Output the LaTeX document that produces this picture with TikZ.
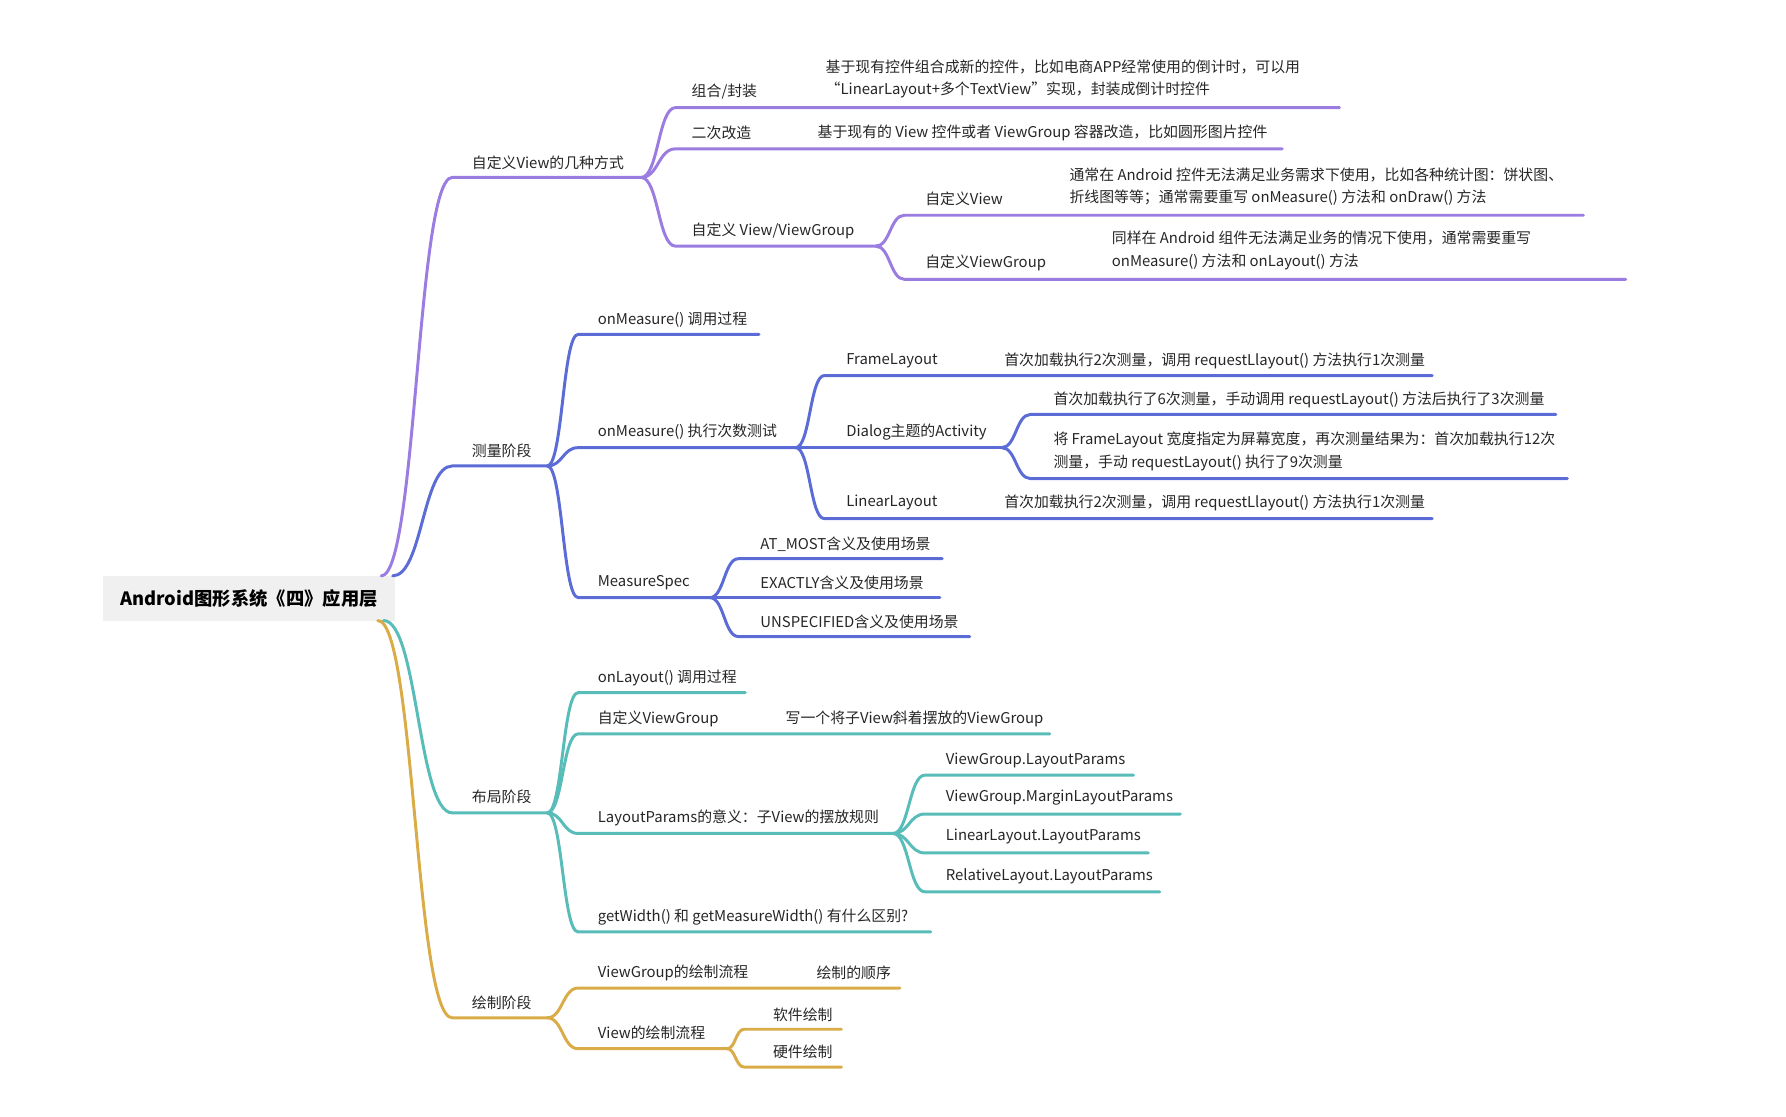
\documentclass[tikz,border=0pt]{standalone}
\usepackage{fontspec}
\setmainfont{Noto Sans CJK SC}
\begin{document}
\begin{tikzpicture}[x=1pt,y=1pt,
  link/.style={line width=2.6pt,line cap=round},
  lbl/.style={anchor=west,inner sep=0pt,font=\fontsize{13}{20}\selectfont,text=black!85},
  note/.style={lbl,align=left},
  cP/.style={color={rgb,255:red,155;green,125;blue,226}},
  cB/.style={color={rgb,255:red,92;green,108;blue,214}},
  cT/.style={color={rgb,255:red,88;green,188;blue,184}},
  cY/.style={color={rgb,255:red,218;green,172;blue,72}}]
\useasboundingbox (0,0) rectangle (1560,-975);
\newcommand\br[7]{%
 \coordinate (#7s) at (#4,-#5); \coordinate (#7e) at (#6,-#5);
 \draw[#1,link] (#2) .. controls ($(#2)+({0.5*(#4-\pgfkeysvalueof{/tmp/x})},0)$) and ({0.5*(#4+\pgfkeysvalueof{/tmp/x})},-#5) .. (#7s) -- (#7e);}
\newcommand\bz[8]{% style, x0,y0, x1,y1, x2, name
 \coordinate (#7s) at (#4,-#5); \coordinate (#7e) at (#6,-#5);
 \draw[#1,link] (#2,-#3) .. controls ({(#2+#4)/2},-#3) and ({(#2+#4)/2},-#5) .. (#7s) -- (#7e);}
% root
\node[fill=black!6,minimum width=255pt,minimum height=39pt,inner sep=0pt,font=\fontsize{16}{20}\selectfont\bfseries] (root) at (217.5,-522.5) {Android图形系统《四》应用层};
% level 1
\bz{cP}{333}{503}{395}{155}{560}{A}{}
\bz{cB}{343}{503}{395}{407}{478}{B}{}
\bz{cT}{335}{542}{395}{710}{478}{C}{}
\bz{cY}{330}{542}{395}{889}{478}{D}{}
\node[lbl] (tA) at (412,-142) {自定义View的几种方式};
\node[lbl] (tB) at (412,-394) {测量阶段};
\node[lbl] (tC) at (412,-696) {布局阶段};
\node[lbl] (tD) at (412,-876) {绘制阶段};
% A children
\bz{cP}{560}{155}{590}{94}{1170}{A1}{}
\bz{cP}{560}{155}{590}{130}{1120}{A2}{}
\bz{cP}{560}{155}{590}{215}{765}{A3}{}
\node[lbl] (tA1) at (604,-80) {组合/封装};
\node[note] (nA1) at (721,-69) {基于现有控件组合成新的控件，比如电商APP经常使用的倒计时，可以用\\“LinearLayout+多个TextView”实现，封装成倒计时控件};
\node[lbl] (tA2) at (604,-116) {二次改造};
\node[lbl] (nA2) at (714,-116) {基于现有的 View 控件或者 ViewGroup 容器改造，比如圆形图片控件};
\node[lbl] (tA3) at (604,-202) {自定义 View/ViewGroup};
\bz{cP}{765}{215}{790}{188}{1383}{A31}{}
\bz{cP}{765}{215}{790}{244}{1420}{A32}{}
\node[lbl] (tA31) at (808,-174) {自定义View};
\node[note] (nA31) at (934,-163) {通常在 Android 控件无法满足业务需求下使用，比如各种统计图：饼状图、\\折线图等等；通常需要重写 onMeasure() 方法和 onDraw() 方法};
\node[lbl] (tA32) at (808,-230) {自定义ViewGroup};
\node[note] (nA32) at (971,-219) {同样在 Android 组件无法满足业务的情况下使用，通常需要重写\\onMeasure() 方法和 onLayout() 方法};
% B children
\bz{cB}{478}{407}{505}{292}{663}{B1}{}
\bz{cB}{478}{407}{505}{391}{695}{B2}{}
\bz{cB}{478}{407}{505}{522}{620}{B3}{}
\node[lbl] (tB1) at (522,-279) {onMeasure() 调用过程};
\node[lbl] (tB2) at (522,-377) {onMeasure() 执行次数测试};
\node[lbl] (tB3) at (522,-509) {MeasureSpec};
\bz{cB}{695}{391}{720}{328}{1251}{B21}{}
\bz{cB}{695}{391}{720}{391}{875}{B22}{}
\bz{cB}{695}{391}{720}{453}{1251}{B23}{}
\node[lbl] (tB21) at (739,-315) {FrameLayout};
\node[lbl] (nB21) at (877,-315) {首次加载执行2次测量，调用 requestLlayout() 方法执行1次测量};
\node[lbl] (tB22) at (739,-377) {Dialog主题的Activity};
\node[lbl] (tB23) at (739,-439) {LinearLayout};
\node[lbl] (nB23) at (877,-439) {首次加载执行2次测量，调用 requestLlayout() 方法执行1次测量};
\bz{cB}{875}{391}{900}{362}{1359}{B221}{}
\bz{cB}{875}{391}{900}{418}{1369}{B222}{}
\node[lbl] (tB221) at (920,-349) {首次加载执行了6次测量，手动调用 requestLayout() 方法后执行了3次测量};
\node[note] (tB222) at (920,-394) {将 FrameLayout 宽度指定为屏幕宽度，再次测量结果为：首次加载执行12次\\测量，手动 requestLayout() 执行了9次测量};
\bz{cB}{620}{522}{645}{488}{823}{B31}{}
\bz{cB}{620}{522}{645}{522}{821}{B32}{}
\bz{cB}{620}{522}{645}{556}{847}{B33}{}
\node[lbl] (tB31) at (664,-475) {AT\_MOST含义及使用场景};
\node[lbl] (tB32) at (664,-509) {EXACTLY含义及使用场景};
\node[lbl] (tB33) at (664,-543) {UNSPECIFIED含义及使用场景};
% C children
\bz{cT}{478}{710}{505}{605}{651}{C1}{}
\bz{cT}{478}{710}{505}{641}{917}{C2}{}
\bz{cT}{478}{710}{505}{728}{780}{C3}{}
\bz{cT}{478}{710}{505}{814}{813}{C4}{}
\node[lbl] (tC1) at (522,-592) {onLayout() 调用过程};
\node[lbl] (tC2) at (522,-628) {自定义ViewGroup};
\node[lbl] (nC2) at (686,-628) {写一个将子View斜着摆放的ViewGroup};
\node[lbl] (tC3) at (522,-714) {LayoutParams的意义：子View的摆放规则};
\node[lbl] (tC4) at (522,-801) {getWidth() 和 getMeasureWidth() 有什么区别?};
\bz{cT}{780}{728}{808}{677}{990}{C31}{}
\bz{cT}{780}{728}{808}{711}{1031}{C32}{}
\bz{cT}{780}{728}{808}{745}{1003}{C33}{}
\bz{cT}{780}{728}{808}{779}{1013}{C34}{}
\node[lbl] (tC31) at (826,-664) {ViewGroup.LayoutParams};
\node[lbl] (tC32) at (826,-697) {ViewGroup.MarginLayoutParams};
\node[lbl] (tC33) at (826,-731) {LinearLayout.LayoutParams};
\node[lbl] (tC34) at (826,-765) {RelativeLayout.LayoutParams};
% D children
\bz{cY}{478}{889}{505}{863}{786}{D1}{}
\bz{cY}{478}{889}{505}{916}{635}{D2}{}
\node[lbl] (tD1) at (522,-850) {ViewGroup的绘制流程};
\node[lbl] (nD1) at (713,-850) {绘制的顺序};
\node[lbl] (tD2) at (522,-902) {View的绘制流程};
\bz{cY}{635}{916}{650}{899}{735}{D21}{}
\bz{cY}{635}{916}{650}{932}{735}{D22}{}
\node[lbl] (tD21) at (675,-886) {软件绘制};
\node[lbl] (tD22) at (675,-919) {硬件绘制};
\end{tikzpicture}
\end{document}
